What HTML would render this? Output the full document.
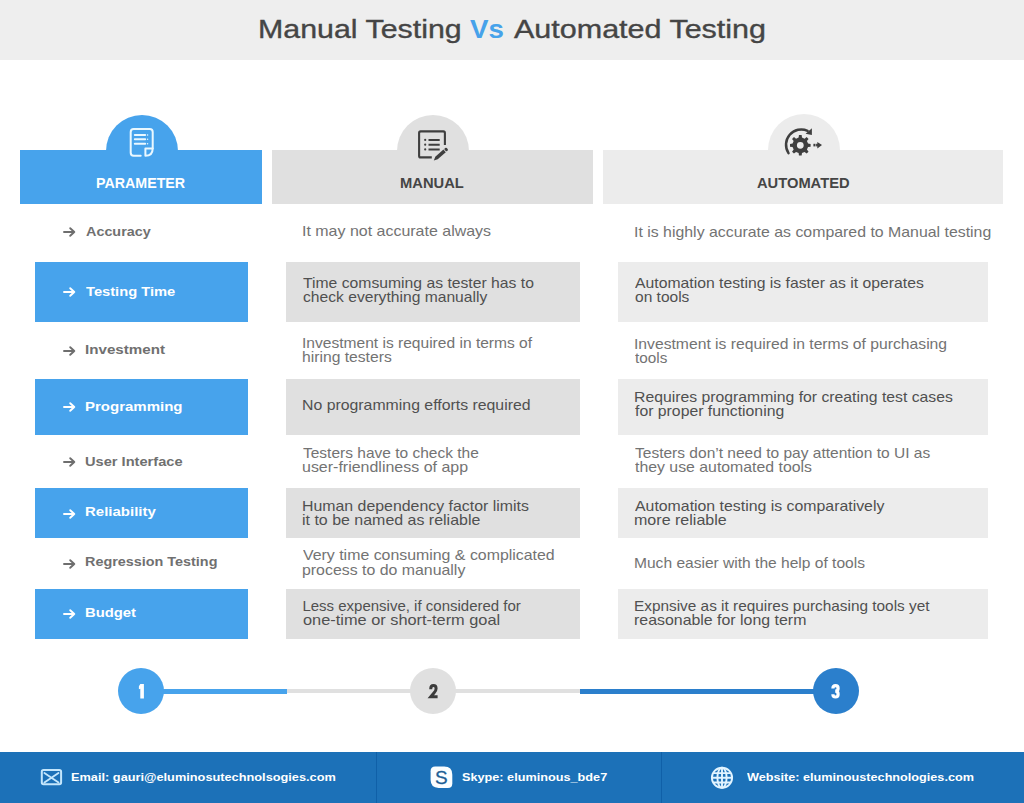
<!DOCTYPE html>
<html><head><meta charset="utf-8"><title>Manual Testing Vs Automated Testing</title>
<style>
html,body{margin:0;padding:0;}
body{width:1024px;height:803px;overflow:hidden;position:relative;background:#fff;font-family:"Liberation Sans",sans-serif;}
.t{position:absolute;white-space:nowrap;transform-origin:0 0;}
svg{position:absolute;overflow:visible;}
</style></head><body>
<div style="position:absolute;left:0px;top:0px;width:1024px;height:60px;background:#eeeeee;"></div>
<div style="position:absolute;left:105.6px;top:114.5px;width:72px;height:72px;border-radius:50%;background:#47a3ec"></div>
<div style="position:absolute;left:396.8px;top:114.5px;width:72px;height:72px;border-radius:50%;background:#e0e0e0"></div>
<div style="position:absolute;left:768.1px;top:114.3px;width:72px;height:72px;border-radius:50%;background:#ececec"></div>
<div style="position:absolute;left:20px;top:150px;width:242px;height:53.5px;background:#47a3ec;"></div>
<div style="position:absolute;left:272px;top:150px;width:321.2px;height:53.5px;background:#e0e0e0;"></div>
<div style="position:absolute;left:603.2px;top:150px;width:399.8px;height:53.5px;background:#ececec;"></div>
<div style="position:absolute;left:35px;top:261.5px;width:213px;height:60.5px;background:#47a3ec;"></div>
<div style="position:absolute;left:285.7px;top:261.5px;width:294.7px;height:60.5px;background:#e0e0e0;"></div>
<div style="position:absolute;left:617.9px;top:261.5px;width:370.6px;height:60.5px;background:#ececec;"></div>
<div style="position:absolute;left:35px;top:378.6px;width:213px;height:56.5px;background:#47a3ec;"></div>
<div style="position:absolute;left:285.7px;top:378.6px;width:294.7px;height:56.5px;background:#e0e0e0;"></div>
<div style="position:absolute;left:617.9px;top:378.6px;width:370.6px;height:56.5px;background:#ececec;"></div>
<div style="position:absolute;left:35px;top:488.0px;width:213px;height:49.7px;background:#47a3ec;"></div>
<div style="position:absolute;left:285.7px;top:488.0px;width:294.7px;height:49.7px;background:#e0e0e0;"></div>
<div style="position:absolute;left:617.9px;top:488.0px;width:370.6px;height:49.7px;background:#ececec;"></div>
<div style="position:absolute;left:35px;top:589.0px;width:213px;height:49.8px;background:#47a3ec;"></div>
<div style="position:absolute;left:285.7px;top:589.0px;width:294.7px;height:49.8px;background:#e0e0e0;"></div>
<div style="position:absolute;left:617.9px;top:589.0px;width:370.6px;height:49.8px;background:#ececec;"></div>
<svg style="left:62.7px;top:227.4px" width="13" height="10" viewBox="0 0 13 10"><path d="M1 5H11.3M7.2 1.2L11.3 5L7.2 8.8" fill="none" stroke="#6e6e6e" stroke-width="1.9" stroke-linecap="round" stroke-linejoin="round"/></svg>
<svg style="left:62.7px;top:286.8px" width="13" height="10" viewBox="0 0 13 10"><path d="M1 5H11.3M7.2 1.2L11.3 5L7.2 8.8" fill="none" stroke="#fff" stroke-width="1.9" stroke-linecap="round" stroke-linejoin="round"/></svg>
<svg style="left:62.7px;top:345.8px" width="13" height="10" viewBox="0 0 13 10"><path d="M1 5H11.3M7.2 1.2L11.3 5L7.2 8.8" fill="none" stroke="#6e6e6e" stroke-width="1.9" stroke-linecap="round" stroke-linejoin="round"/></svg>
<svg style="left:62.7px;top:402.1px" width="13" height="10" viewBox="0 0 13 10"><path d="M1 5H11.3M7.2 1.2L11.3 5L7.2 8.8" fill="none" stroke="#fff" stroke-width="1.9" stroke-linecap="round" stroke-linejoin="round"/></svg>
<svg style="left:62.7px;top:457.0px" width="13" height="10" viewBox="0 0 13 10"><path d="M1 5H11.3M7.2 1.2L11.3 5L7.2 8.8" fill="none" stroke="#6e6e6e" stroke-width="1.9" stroke-linecap="round" stroke-linejoin="round"/></svg>
<svg style="left:62.7px;top:508.5px" width="13" height="10" viewBox="0 0 13 10"><path d="M1 5H11.3M7.2 1.2L11.3 5L7.2 8.8" fill="none" stroke="#fff" stroke-width="1.9" stroke-linecap="round" stroke-linejoin="round"/></svg>
<svg style="left:62.7px;top:558.7px" width="13" height="10" viewBox="0 0 13 10"><path d="M1 5H11.3M7.2 1.2L11.3 5L7.2 8.8" fill="none" stroke="#6e6e6e" stroke-width="1.9" stroke-linecap="round" stroke-linejoin="round"/></svg>
<svg style="left:62.7px;top:608.8px" width="13" height="10" viewBox="0 0 13 10"><path d="M1 5H11.3M7.2 1.2L11.3 5L7.2 8.8" fill="none" stroke="#fff" stroke-width="1.9" stroke-linecap="round" stroke-linejoin="round"/></svg>
<div style="position:absolute;left:141px;top:688.6px;width:145.7px;height:5.0px;background:#47a3ec;"></div>
<div style="position:absolute;left:286.7px;top:688.8px;width:293.3px;height:4.6px;background:#e0e0e0;"></div>
<div style="position:absolute;left:580px;top:688.6px;width:256px;height:5.0px;background:#2b7fcc;"></div>
<div style="position:absolute;left:118.1px;top:668.0px;width:46px;height:46px;border-radius:50%;background:#47a3ec"></div>
<div style="position:absolute;left:409.7px;top:667.8px;width:46px;height:46px;border-radius:50%;background:#e0e0e0"></div>
<div style="position:absolute;left:812.7px;top:667.8px;width:46.4px;height:46.4px;border-radius:50%;background:#2b7fcc"></div>
<div style="position:absolute;left:0px;top:752px;width:1024px;height:51px;background:#1c71b8;"></div>
<div style="position:absolute;left:376.3px;top:752px;width:1.0px;height:51px;background:#1060a8;"></div>
<div style="position:absolute;left:661.0px;top:752px;width:1.0px;height:51px;background:#1060a8;"></div>
<svg style="left:128px;top:126px" width="28" height="33" viewBox="0 0 28 33"><g fill="none" stroke="#eaf8ff" stroke-width="2" stroke-linejoin="round" stroke-linecap="round">
<path d="M12.7 29.7H5.7Q2.7 29.7 2.7 26.7V6Q2.7 3 5.7 3H21.7Q24.7 3 24.7 6V22.4"/>
<path d="M24.7 22.4H17.4V29.7Q24.7 29.7 24.7 22.4Z"/>
<path d="M6.8 9H17.2M6.8 13.2H17.2M6.8 17.7H17.2"/>
</g><g fill="#eaf8ff"><circle cx="19.6" cy="9" r="0.7"/><circle cx="19.6" cy="13.2" r="0.7"/><circle cx="19.6" cy="17.7" r="0.7"/></g></svg>
<svg style="left:416px;top:128px" width="36" height="36" viewBox="0 0 36 36"><g fill="none" stroke="#3f3f3f" stroke-width="2.1">
<path d="M15.8 29.4H4.6Q3.1 29.4 3.1 27.9V4.9Q3.1 3.4 4.6 3.4H27.4Q28.9 3.4 28.9 4.9V17"/>
<path d="M12.5 11.9H23.7M12.5 16.7H23.7M12.5 21.4H23.7" stroke-width="2"/>
</g><g fill="#3f3f3f">
<circle cx="9.2" cy="11.9" r="1.1"/><circle cx="9.2" cy="16.7" r="1.1"/><circle cx="9.2" cy="21.4" r="1.1"/>
<g transform="translate(17.8 32.4) rotate(-41.4)"><path d="M0 0L3.6 -1.8H14.4V1.8H3.6Z"/><rect x="15.1" y="-1.8" width="2.8" height="3.6" rx="1.2"/></g>
</g></svg>
<svg style="left:785px;top:128px" width="40" height="32" viewBox="0 0 40 32"><g fill="#3f3f3f">
<path fill-rule="evenodd" d="M23.02 15.61 L25.61 15.95 L25.61 18.65 L23.02 18.99 L21.95 21.56 L23.54 23.64 L21.64 25.54 L19.56 23.95 L16.99 25.02 L16.65 27.61 L13.95 27.61 L13.61 25.02 L11.04 23.95 L8.96 25.54 L7.06 23.64 L8.65 21.56 L7.58 18.99 L4.99 18.65 L4.99 15.95 L7.58 15.61 L8.65 13.04 L7.06 10.96 L8.96 9.06 L11.04 10.65 L13.61 9.58 L13.95 6.99 L16.65 6.99 L16.99 9.58 L19.56 10.65 L21.64 9.06 L23.54 10.96 L21.95 13.04Z M18.70 17.30 A3.4 3.4 0 1 0 11.90 17.30 A3.4 3.4 0 1 0 18.70 17.30Z"/>
<path d="M3.5 25.1A15.3 15.3 0 0 1 22.6 2.8" fill="none" stroke="#3f3f3f" stroke-width="2.5" stroke-linecap="round"/>
<path d="M26.9 0.2L26.9 7.1L20.6 5.8Z"/>
<rect x="28.4" y="15.8" width="2.1" height="2.6"/><rect x="31.1" y="15.8" width="1.8" height="2.6"/>
<path d="M32.3 13.9L37 17.1L32.3 20.4Z"/>
</g></svg>
<svg style="left:40px;top:768px" width="24" height="19" viewBox="0 0 24 19"><g fill="none" stroke="#c4e6fc" stroke-width="2" stroke-linejoin="round" stroke-linecap="round">
<rect x="1.8" y="2" width="19.3" height="14.3" rx="1.8"/>
<path d="M4.4 4.9L11.45 9.7L18.5 4.9M4.4 14.5L11.45 9.7L18.5 14.5" stroke-width="1.8"/>
</g></svg>
<svg style="left:430px;top:766px" width="23" height="23" viewBox="0 0 23 23">
<path fill="#fbfeff" d="M5.2 0.6H14.2Q22.3 0.6 22.3 8.7V17.4Q22.3 21.9 17.8 21.9H8.7Q0.6 21.9 0.6 13.8V5.2Q0.6 0.6 5.2 0.6Z"/>
<text x="11.3" y="18.3" text-anchor="middle" font-family="Liberation Sans" font-weight="400" font-size="19" fill="#1d5e95" stroke="#1d5e95" stroke-width="0.3">S</text>
</svg>
<svg style="left:710px;top:766px" width="24" height="24" viewBox="0 0 24 24"><g fill="none" stroke="#e2f4ff" stroke-width="1.9">
<circle cx="12" cy="11.8" r="10.1"/>
<ellipse cx="12" cy="11.8" rx="4.6" ry="10.1"/>
<path d="M12 1.7V21.9M1.9 11.8H22.1M3.2 7.1H20.8M3.2 16.5H20.8"/>
</g></svg>
<div class="t" style="left:302.34px;top:223.40px;font-size:15px;line-height:15px;font-weight:400;color:#737373;transform:scaleX(1.0648);">It may not accurate always</div>
<div class="t" style="left:303.40px;top:274.70px;font-size:15px;line-height:15px;font-weight:400;color:#505050;transform:scaleX(1.0477);">Time comsuming as tester has to</div>
<div class="t" style="left:303.40px;top:289.00px;font-size:15px;line-height:15px;font-weight:400;color:#505050;transform:scaleX(1.0424);">check everything manually</div>
<div class="t" style="left:302.36px;top:334.60px;font-size:15px;line-height:15px;font-weight:400;color:#737373;transform:scaleX(1.0376);">Investment is required in terms of</div>
<div class="t" style="left:302.35px;top:348.60px;font-size:15px;line-height:15px;font-weight:400;color:#737373;transform:scaleX(1.0452);">hiring testers</div>
<div class="t" style="left:302.34px;top:396.70px;font-size:15px;line-height:15px;font-weight:400;color:#505050;transform:scaleX(1.0558);">No programming efforts required</div>
<div class="t" style="left:303.40px;top:445.20px;font-size:15px;line-height:15px;font-weight:400;color:#737373;transform:scaleX(1.0335);">Testers have to check the</div>
<div class="t" style="left:302.34px;top:459.20px;font-size:15px;line-height:15px;font-weight:400;color:#737373;transform:scaleX(1.0649);">user-friendliness of app</div>
<div class="t" style="left:302.34px;top:498.20px;font-size:15px;line-height:15px;font-weight:400;color:#505050;transform:scaleX(1.0587);">Human dependency factor limits</div>
<div class="t" style="left:302.34px;top:512.00px;font-size:15px;line-height:15px;font-weight:400;color:#505050;transform:scaleX(1.0639);">it to be named as reliable</div>
<div class="t" style="left:303.40px;top:546.50px;font-size:15px;line-height:15px;font-weight:400;color:#737373;transform:scaleX(1.0591);">Very time consuming &amp; complicated</div>
<div class="t" style="left:302.34px;top:561.60px;font-size:15px;line-height:15px;font-weight:400;color:#737373;transform:scaleX(1.0588);">process to do manually</div>
<div class="t" style="left:302.40px;top:598.20px;font-size:15px;line-height:15px;font-weight:400;color:#505050;">Less expensive, if considered for</div>
<div class="t" style="left:303.40px;top:612.00px;font-size:15px;line-height:15px;font-weight:400;color:#505050;transform:scaleX(1.09);">one-time or short-term goal</div>
<div class="t" style="left:634.34px;top:223.80px;font-size:15px;line-height:15px;font-weight:400;color:#737373;transform:scaleX(1.058);">It is highly accurate as compared to Manual testing</div>
<div class="t" style="left:635.40px;top:275.00px;font-size:15px;line-height:15px;font-weight:400;color:#505050;transform:scaleX(1.0498);">Automation testing is faster as it operates</div>
<div class="t" style="left:635.40px;top:289.20px;font-size:15px;line-height:15px;font-weight:400;color:#505050;transform:scaleX(1.0346);">on tools</div>
<div class="t" style="left:634.35px;top:336.00px;font-size:15px;line-height:15px;font-weight:400;color:#737373;transform:scaleX(1.046);">Investment is required in terms of purchasing</div>
<div class="t" style="left:635.40px;top:350.20px;font-size:15px;line-height:15px;font-weight:400;color:#737373;transform:scaleX(1.0194);">tools</div>
<div class="t" style="left:634.35px;top:389.20px;font-size:15px;line-height:15px;font-weight:400;color:#505050;transform:scaleX(1.0507);">Requires programming for creating test cases</div>
<div class="t" style="left:635.40px;top:403.20px;font-size:15px;line-height:15px;font-weight:400;color:#505050;transform:scaleX(1.0525);">for proper functioning</div>
<div class="t" style="left:635.40px;top:445.40px;font-size:15px;line-height:15px;font-weight:400;color:#737373;transform:scaleX(1.0351);">Testers don’t need to pay attention to UI as</div>
<div class="t" style="left:635.40px;top:459.00px;font-size:15px;line-height:15px;font-weight:400;color:#737373;transform:scaleX(1.0557);">they use automated tools</div>
<div class="t" style="left:635.40px;top:498.20px;font-size:15px;line-height:15px;font-weight:400;color:#505050;transform:scaleX(1.0568);">Automation testing is comparatively</div>
<div class="t" style="left:634.33px;top:511.80px;font-size:15px;line-height:15px;font-weight:400;color:#505050;transform:scaleX(1.0694);">more reliable</div>
<div class="t" style="left:634.36px;top:554.60px;font-size:15px;line-height:15px;font-weight:400;color:#737373;transform:scaleX(1.0376);">Much easier with the help of tools</div>
<div class="t" style="left:634.38px;top:598.40px;font-size:15px;line-height:15px;font-weight:400;color:#505050;transform:scaleX(1.0243);">Expnsive as it requires purchasing tools yet</div>
<div class="t" style="left:634.34px;top:611.80px;font-size:15px;line-height:15px;font-weight:400;color:#505050;transform:scaleX(1.0602);">reasonable for long term</div>
<div class="t" style="left:86.20px;top:226.10px;font-size:12.5px;line-height:12.5px;font-weight:700;color:#707070;transform:scaleX(1.15);">Accuracy</div>
<div class="t" style="left:86.20px;top:285.90px;font-size:12.5px;line-height:12.5px;font-weight:700;color:#ffffff;transform:scaleX(1.175);">Testing Time</div>
<div class="t" style="left:84.99px;top:344.30px;font-size:12.5px;line-height:12.5px;font-weight:700;color:#707070;transform:scaleX(1.2123);">Investment</div>
<div class="t" style="left:85.00px;top:400.60px;font-size:12.5px;line-height:12.5px;font-weight:700;color:#ffffff;transform:scaleX(1.2);">Programming</div>
<div class="t" style="left:85.03px;top:455.50px;font-size:12.5px;line-height:12.5px;font-weight:700;color:#707070;transform:scaleX(1.1707);">User Interface</div>
<div class="t" style="left:85.00px;top:505.90px;font-size:12.5px;line-height:12.5px;font-weight:700;color:#ffffff;transform:scaleX(1.2);">Reliability</div>
<div class="t" style="left:85.05px;top:556.40px;font-size:12.5px;line-height:12.5px;font-weight:700;color:#707070;transform:scaleX(1.1509);">Regression Testing</div>
<div class="t" style="left:85.01px;top:607.30px;font-size:12.5px;line-height:12.5px;font-weight:700;color:#ffffff;transform:scaleX(1.1857);">Budget</div>
<div class="t" style="left:96.48px;top:175.50px;font-size:14px;line-height:14px;font-weight:700;color:#ffffff;transform:scaleX(1.0174);">PARAMETER</div>
<div class="t" style="left:400.35px;top:175.50px;font-size:14px;line-height:14px;font-weight:700;color:#454545;transform:scaleX(1.0508);">MANUAL</div>
<div class="t" style="left:757.10px;top:175.50px;font-size:14px;line-height:14px;font-weight:700;color:#454545;transform:scaleX(1.05);">AUTOMATED</div>
<div class="t" style="left:70.64px;top:771.70px;font-size:11px;line-height:11px;font-weight:700;color:#ffffff;transform:scaleX(1.1599);">Email: gauri@eluminosutechnolsogies.com</div>
<div class="t" style="left:461.60px;top:771.70px;font-size:11px;line-height:11px;font-weight:700;color:#ffffff;transform:scaleX(1.1532);">Skype: eluminous_bde7</div>
<div class="t" style="left:747.30px;top:771.90px;font-size:11px;line-height:11px;font-weight:700;color:#ffffff;transform:scaleX(1.1508);">Website: eluminoustechnologies.com</div>
<div class="t" style="left:257.91px;top:16.80px;font-size:25.4px;line-height:25.4px;font-weight:400;color:#454545;transform:scaleX(1.1958);-webkit-text-stroke:0.35px #454545;">Manual Testing</div>
<div class="t" style="left:469.80px;top:16.80px;font-size:25.4px;line-height:25.4px;font-weight:700;color:#46a2ea;transform:scaleX(1.09);">Vs</div>
<div class="t" style="left:513.70px;top:16.80px;font-size:25.4px;line-height:25.4px;font-weight:400;color:#454545;transform:scaleX(1.201);-webkit-text-stroke:0.35px #454545;">Automated Testing</div>
<svg style="left:0;top:0" width="1024" height="803" viewBox="0 0 1024 803">
<path fill="#ffffff" d="M140.3 684.1H143.9V698.4H140.3V688.7L138.9 689.2V686.3Z"/>
<path fill="none" stroke="#3c3c3c" stroke-width="3" stroke-linejoin="miter" d="M430.7 689.2Q430.7 685.6 433.4 685.6Q436.1 685.6 436.1 688.4Q436.1 690.6 434.1 692.8L430.8 696.7H437.6"/>
<path fill="none" stroke="#ffffff" stroke-width="3.2" d="M832.9 688.6Q832.9 685.7 835.5 685.7Q838.1 685.7 838.1 688.3Q838.1 691.2 835.2 691.2Q838.1 691.2 838.1 694.2Q838.1 697 835.5 697Q832.9 697 832.9 694.2"/>
</svg>
</body></html>
